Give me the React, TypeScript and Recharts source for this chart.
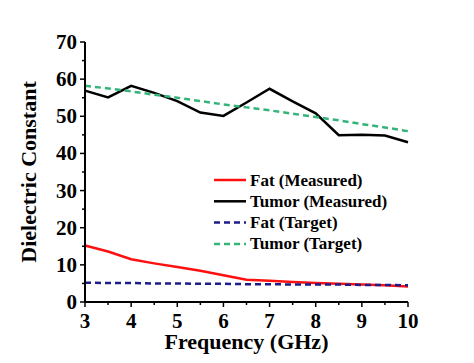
import React from 'react';
import { LineChart, Line, XAxis, YAxis } from 'recharts';

const freq = [3, 3.5, 4, 4.5, 5, 5.5, 6, 6.5, 7, 7.5, 8, 8.5, 9, 9.5, 10];
const fatMeasured = [15.2, 13.6, 11.5, 10.4, 9.4, 8.4, 7.2, 6.0, 5.7, 5.4, 5.1, 4.9, 4.7, 4.5, 4.2];
const tumorMeasured = [56.9, 55.1, 58.2, 56.3, 54.1, 51.0, 50.1, 53.7, 57.4, 54.0, 50.8, 44.9, 45.0, 44.8, 43.0];
const fatTarget = [5.2, 5.1, 5.1, 5.0, 5.0, 4.9, 4.9, 4.8, 4.8, 4.7, 4.7, 4.7, 4.6, 4.6, 4.5];
const tumorTarget = [58.2, 57.5, 56.7, 55.8, 55.0, 54.1, 53.2, 52.4, 51.6, 50.7, 49.8, 48.9, 47.9, 47.0, 46.0];

const xTicks = [3, 3.5, 4, 4.5, 5, 5.5, 6, 6.5, 7, 7.5, 8, 8.5, 9, 9.5, 10];
const yTicks = [0, 5, 10, 15, 20, 25, 30, 35, 40, 45, 50, 55, 60, 65, 70];

const seriesKeys = ['fatM', 'tumM', 'fatT', 'tumT'];
const seriesNames = ['Fat (Measured)', 'Tumor (Measured)', 'Fat (Target)', 'Tumor (Target)'];
const seriesColors = ['#ff1010', '#000000', '#1c1c8a', '#35b47a'];
const seriesDashes = ['', '', '6 4', '6 4'];

const data = freq.map((f, i) => ({
  f,
  fatM: fatMeasured[i],
  tumM: tumorMeasured[i],
  fatT: fatTarget[i],
  tumT: tumorTarget[i],
}));

const XTick = (props: any) => {
  const { x, y, payload } = props;
  const v = payload.value;
  const major = Number.isInteger(v);
  return (
    <g>
      <line x1={x} x2={x} y1={y} y2={y + (major ? 5 : 3)} stroke="#000" strokeWidth={1.5} />
      {major && (
        <text x={x} y={y + 26} textAnchor="middle" fontFamily="Liberation Serif" fontWeight="bold" fontSize={21} fill="#000">
          {v}
        </text>
      )}
    </g>
  );
};

const YTick = (props: any) => {
  const { x, y, payload } = props;
  const v = payload.value;
  const major = v % 10 === 0;
  return (
    <g>
      <line x1={x} x2={x - (major ? 5 : 3)} y1={y} y2={y} stroke="#000" strokeWidth={1.5} />
      {major && (
        <text x={x - 8} y={y + 7} textAnchor="end" fontFamily="Liberation Serif" fontWeight="bold" fontSize={21} fill="#000">
          {v}
        </text>
      )}
    </g>
  );
};

const XTitle = (props: any) => {
  const { viewBox } = props;
  const cx = viewBox.x + viewBox.width / 2;
  return (
    <text x={cx} y={viewBox.y + 47} textAnchor="middle" fontFamily="Liberation Serif" fontWeight="bold" fontSize={22} fill="#000">
      Frequency (GHz)
    </text>
  );
};

const YTitle = (props: any) => {
  const { viewBox } = props;
  const cy = viewBox.y + viewBox.height / 2;
  const cx = 20;
  return (
    <text
      x={cx}
      y={cy}
      textAnchor="middle"
      dominantBaseline="central"
      transform={`rotate(-90, ${cx}, ${cy})`}
      fontFamily="Liberation Serif"
      fontWeight="bold"
      fontSize={22}
      fill="#000"
    >
      Dielectric Constant
    </text>
  );
};

export default function App() {
  return (
    <div>
      <LineChart width={466} height={355} data={data} margin={{ top: 34, right: 66, left: 0, bottom: 0 }}>
        <XAxis
          dataKey="f"
          type="number"
          domain={[3, 10]}
          ticks={xTicks}
          interval={0}
          tick={<XTick />}
          tickLine={false}
          tickSize={0}
          tickMargin={0}
          height={61}
          axisLine={{ stroke: '#000', strokeWidth: 2 }}
          label={<XTitle />}
        />
        <XAxis
          xAxisId="top"
          orientation="top"
          dataKey="f"
          type="number"
          domain={[3, 10]}
          tick={false}
          tickLine={false}
          height={0}
          axisLine={{ stroke: '#000', strokeWidth: 2 }}
        />
        <YAxis
          type="number"
          domain={[0, 70]}
          ticks={yTicks}
          interval={0}
          tick={<YTick />}
          tickLine={false}
          tickSize={0}
          tickMargin={0}
          width={77}
          axisLine={{ stroke: '#000', strokeWidth: 2 }}
          label={<YTitle />}
        />
        <YAxis
          yAxisId="right"
          orientation="right"
          type="number"
          domain={[0, 70]}
          tick={false}
          tickLine={false}
          width={0}
          axisLine={{ stroke: '#000', strokeWidth: 2 }}
        />
        {seriesKeys.map((k, i) => (
          <Line
            key={k}
            dataKey={k}
            name={seriesNames[i]}
            stroke={seriesColors[i]}
            strokeWidth={2.5}
            strokeDasharray={seriesDashes[i] || undefined}
            dot={false}
            activeDot={false}
            type="linear"
            isAnimationActive={false}
          />
        ))}
        <g transform="translate(206, 162)">
          {seriesKeys.map((k, i) => {
            const cy = 10 + i * 21.3;
            return (
              <g key={k}>
                <line
                  x1={0}
                  x2={32}
                  y1={cy}
                  y2={cy}
                  stroke={seriesColors[i]}
                  strokeWidth={2.5}
                  strokeDasharray={seriesDashes[i] || undefined}
                />
                <text x={36} y={cy + 5.5} fontFamily="Liberation Serif" fontWeight="bold" fontSize={17} fill="#000">
                  {seriesNames[i]}
                </text>
              </g>
            );
          })}
        </g>
      </LineChart>
    </div>
  );
}
